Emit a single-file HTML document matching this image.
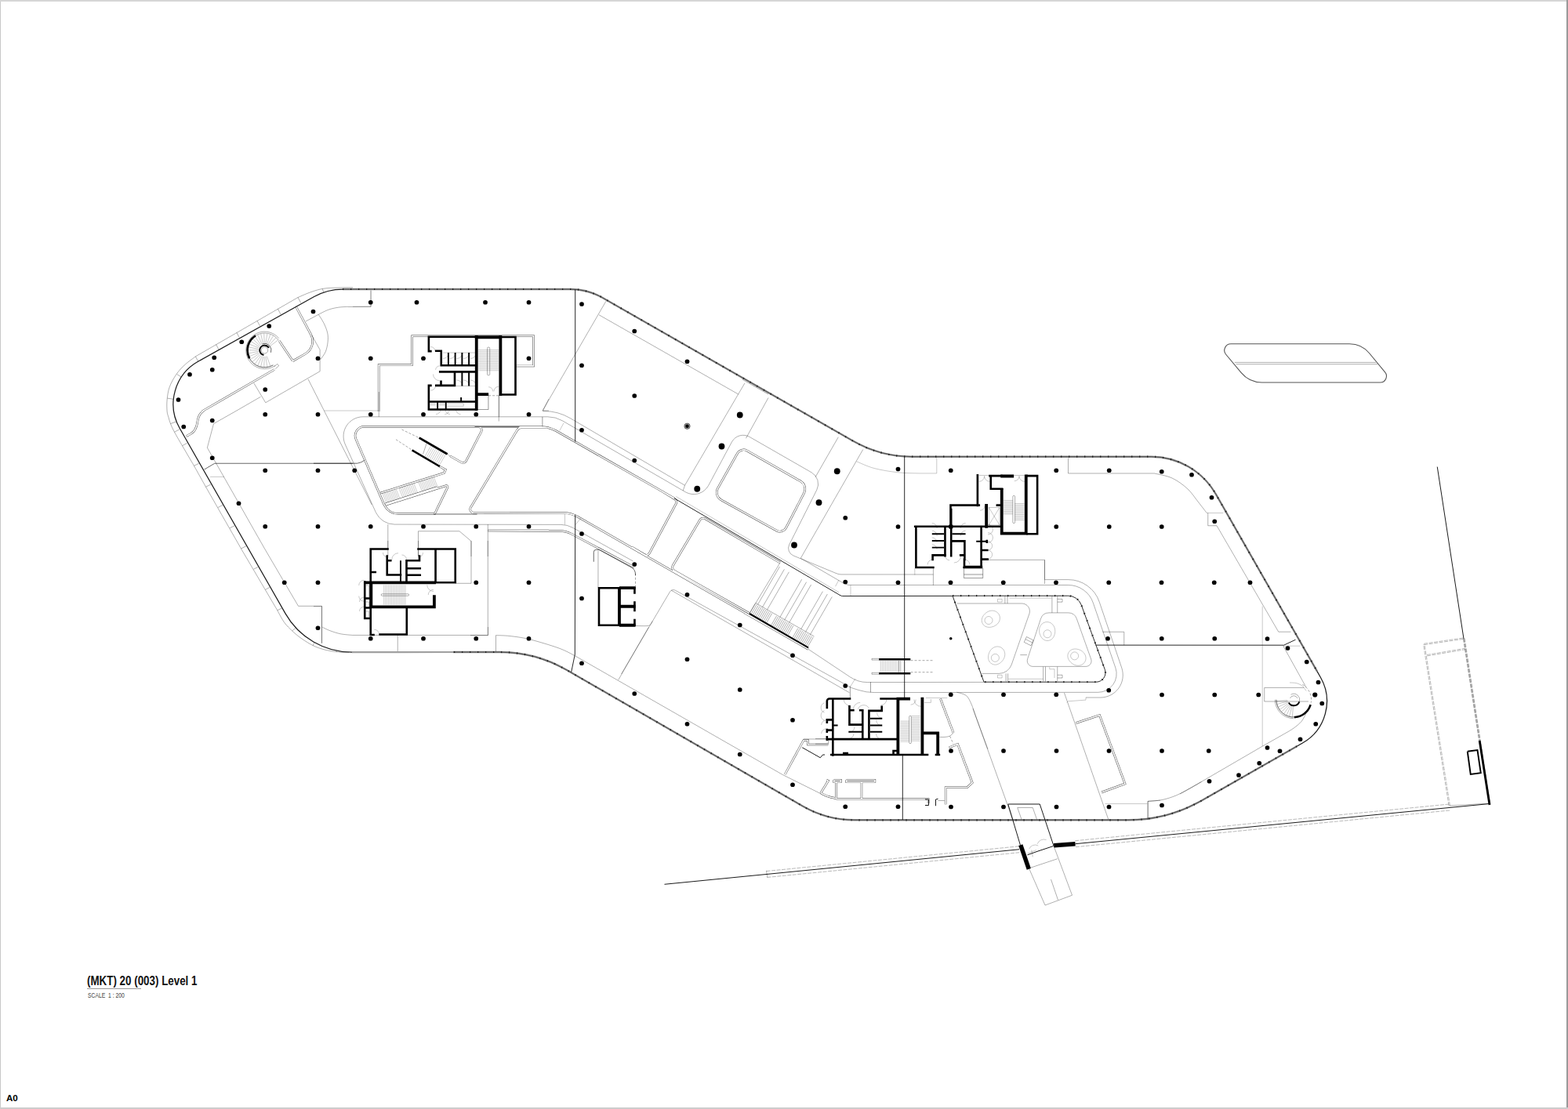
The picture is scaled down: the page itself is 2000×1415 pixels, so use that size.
<!DOCTYPE html>
<html lang="en"><head><meta charset="utf-8"><title>(MKT) 20 (003) Level 1</title>
<style>
html,body{margin:0;padding:0;background:#fff;}
body{width:2000px;height:1415px;overflow:hidden;position:relative;font-family:"Liberation Sans",sans-serif;}
svg{position:absolute;left:0;top:0;display:block}
path,circle{fill:none;stroke-linecap:butt;stroke-linejoin:miter}
.t{stroke:#000;stroke-width:.32}
.g{stroke:#000;stroke-width:.22}
.m{stroke:#000;stroke-width:.6}
.fa{stroke:#3c3c3c;stroke-width:.75}
.w{stroke:#000;stroke-width:2.6;stroke-linecap:square}
.w2{stroke:#000;stroke-width:3.8;stroke-linecap:butt}
.w1{stroke:#000;stroke-width:1.9}
.col{fill:#000;stroke:none}
.d{stroke:#000;stroke-width:.35;stroke-dasharray:3 2}
.dbo{stroke:#3a3a3a;stroke-width:2.5}
.dbi{stroke:#fff;stroke-width:1.6}
.st{stroke:#000;stroke-width:.2}
.ev{stroke:#2a2a2a;stroke-width:1.0}
.blk{fill:#000;stroke:none}
.dl{stroke:#000;stroke-width:.28;stroke-dasharray:5 1.5}
.s1{stroke:#000;stroke-width:.9}
.cn{stroke:#555;stroke-width:1.1}
.m2{stroke:#000;stroke-width:.85}
.fg{stroke:#8c8c8c;stroke-width:2.4}
.ft{stroke:#222;stroke-width:2.2;stroke-dasharray:1.3 8.7}
.fth{stroke:#1e1e1e;stroke-width:1.25}
.fg2{stroke:#a0a0a0;stroke-width:2.2}
.col circle{fill:#000;stroke:none}
.bl{position:absolute;left:0;top:0;width:1px;height:1415px;background:#c8c8c8}
.bt{position:absolute;left:0;top:0;width:2000px;height:1.5px;background:#d6d6d6}
.br{position:absolute;left:1997.5px;top:0;width:2.5px;height:1415px;background:#9a9a9a}
.bb{position:absolute;left:0;top:1413.3px;width:2000px;height:1.7px;background:#cdcdcd}
.title{position:absolute;left:111.3px;top:1243.4px;font-weight:bold;font-size:16px;line-height:18px;color:#111;white-space:nowrap;transform-origin:0 0;transform:scaleX(.836)}
.ul{position:absolute;left:110.5px;top:1261px;width:69.5px;height:1px;background:#999}
.scale{position:absolute;left:111.5px;top:1265px;font-size:9px;line-height:10px;color:#444;white-space:nowrap;transform-origin:0 0;transform:scaleX(.755)}
.a0{position:absolute;left:8px;top:1394.2px;font-weight:bold;font-size:11.6px;line-height:14px;color:#000;white-space:nowrap}
</style></head><body>
<svg width="2000" height="1415" viewBox="0 0 2000 1415">
<path class="fg" d="M437,369 L727.6,369 A82.73,82.73 0 0 1 768.69,379.93 L1088.28,562.83 A150.42,150.42 0 0 0 1163,582.7 L1468.5,582.7 A94.78,94.78 0 0 1 1550.79,630.45 L1680.17,856.83 M1654.09,952.27 L1532.63,1021.53 A188.62,188.62 0 0 1 1439.2,1046.3 L1089.5,1046.3 A130.63,130.63 0 0 1 1024.19,1028.8 L723.14,855 A171.68,171.68 0 0 0 637.3,832 L578,832"/>
<path class="fg2" d="M578,832 L449,832.2"/>
<path class="dbo" d="M356.25,435 L373.5,460.62 M373.5,460.62 L389.4,451.48 A18.54,18.54 0 0 0 396.49,426.64 L377.5,391.25 M350,471.5 L257.5,525 L260,523.75 M260,523.75 C259.17,524.58 256.25,526.88 255,528.75 C253.75,530.62 253.23,532.5 252.5,535 C251.77,537.5 251.46,541.25 250.62,543.75 C249.79,546.25 248.85,548.29 247.5,550 C246.15,551.71 244.17,552.92 242.5,554 C240.83,555.08 238.33,556.08 237.5,556.5 M658.75,466.88 L680.62,466.88 L680.62,428.75 L525.62,428.75 L525.62,465.62 L483.12,465.62 L483.12,525 M574,581.75 L588.54,590.02 A4.32,4.32 0 0 0 594.51,588.25 L613.84,550.77 A4.27,4.27 0 0 0 610.05,544.55 L464.25,544.55 A11.2,11.2 0 0 0 453.96,560.17 L490,644 M559.75,594.5 L568.3,599.3 L566.5,603.5 L485.5,629 M557.5,621.8 L491.8,642.8 M491.8,644.3 L568.69,619.72 A1.71,1.71 0 0 1 570.75,622.1 L554.5,655.55 L508,655.55 A19.52,19.52 0 0 1 490.58,644.84 L489.4,642.5 M622.3,677 L700,677 M940.59,578.45 A8.95,8.95 0 0 1 952.82,575.06 L1021.04,613.95 A11.45,11.45 0 0 1 1025.54,629.17 L1002.64,673.41 A8.75,8.75 0 0 1 990.63,677.04 L919.82,637.83 A10.93,10.93 0 0 1 915.59,622.91 Z M617.5,654.5 L718.7,654.59 A37.54,37.54 0 0 1 737.37,659.58 L1031,828.3 M622.3,677 L714,677.46 A32.41,32.41 0 0 1 729.06,681.26 L809,723.8 M605.5,544.62 L690.5,544.69 A37.75,37.75 0 0 1 709.18,549.66 L860,635.75 M950,782.25 L1031,828 M1199.5,891.45 L1216,934.9 M1210.5,953.82 L1221.5,949.42 L1240.2,998.7 L1233.6,1004.75 L1206.1,1004.75 L1206.1,1026.2 M1054.3,995.18 L1056.5,996.28 L1046.82,1011.9 M1046.82,1011.9 C1048.43,1012.63 1053.24,1015.16 1056.5,1016.3 C1059.76,1017.44 1064.75,1018.32 1066.4,1018.72 M1063.65,995.18 L1072.45,995.18 L1072.45,997.6 L1063.65,997.6 L1063.65,995.18 M1066.62,997.6 L1066.62,1019.05 M1079.6,995.18 L1115.9,995.18 L1115.9,997.6 L1079.6,997.6 L1079.6,995.18 M1098.96,997.6 L1098.96,1019.6 M1066.62,1019.6 L1184.1,1019.6 L1184.1,1025.1 M1372.5,922.5 L1402.5,912.5 L1435,1000 L1405,1011 M700,545.6 L665.5,545.6 A7.06,7.06 0 0 0 659.44,549.03 L600.42,647.44 A4.53,4.53 0 0 0 604.3,654.3 L650,654.3 M845,627.2 L860.45,636.57 A4.73,4.73 0 0 1 862.17,642.86 L828.13,706.04 A4.3,4.3 0 0 1 822.14,707.68 L806,698 M995,717.95 L899.51,661.83 A5.02,5.02 0 0 0 892.65,663.6 L858.35,721.5 A4.91,4.91 0 0 0 860.15,728.27 L956,782.6 M1001.25,988 L1025,944.5 L1030.5,944.5 L1030.5,950 L1056.25,950"/>
<path class="dbi" d="M356.25,435 L373.5,460.62 M373.5,460.62 L389.4,451.48 A18.54,18.54 0 0 0 396.49,426.64 L377.5,391.25 M350,471.5 L257.5,525 L260,523.75 M260,523.75 C259.17,524.58 256.25,526.88 255,528.75 C253.75,530.62 253.23,532.5 252.5,535 C251.77,537.5 251.46,541.25 250.62,543.75 C249.79,546.25 248.85,548.29 247.5,550 C246.15,551.71 244.17,552.92 242.5,554 C240.83,555.08 238.33,556.08 237.5,556.5 M658.75,466.88 L680.62,466.88 L680.62,428.75 L525.62,428.75 L525.62,465.62 L483.12,465.62 L483.12,525 M574,581.75 L588.54,590.02 A4.32,4.32 0 0 0 594.51,588.25 L613.84,550.77 A4.27,4.27 0 0 0 610.05,544.55 L464.25,544.55 A11.2,11.2 0 0 0 453.96,560.17 L490,644 M559.75,594.5 L568.3,599.3 L566.5,603.5 L485.5,629 M557.5,621.8 L491.8,642.8 M491.8,644.3 L568.69,619.72 A1.71,1.71 0 0 1 570.75,622.1 L554.5,655.55 L508,655.55 A19.52,19.52 0 0 1 490.58,644.84 L489.4,642.5 M622.3,677 L700,677 M940.59,578.45 A8.95,8.95 0 0 1 952.82,575.06 L1021.04,613.95 A11.45,11.45 0 0 1 1025.54,629.17 L1002.64,673.41 A8.75,8.75 0 0 1 990.63,677.04 L919.82,637.83 A10.93,10.93 0 0 1 915.59,622.91 Z M617.5,654.5 L718.7,654.59 A37.54,37.54 0 0 1 737.37,659.58 L1031,828.3 M622.3,677 L714,677.46 A32.41,32.41 0 0 1 729.06,681.26 L809,723.8 M605.5,544.62 L690.5,544.69 A37.75,37.75 0 0 1 709.18,549.66 L860,635.75 M950,782.25 L1031,828 M1199.5,891.45 L1216,934.9 M1210.5,953.82 L1221.5,949.42 L1240.2,998.7 L1233.6,1004.75 L1206.1,1004.75 L1206.1,1026.2 M1054.3,995.18 L1056.5,996.28 L1046.82,1011.9 M1046.82,1011.9 C1048.43,1012.63 1053.24,1015.16 1056.5,1016.3 C1059.76,1017.44 1064.75,1018.32 1066.4,1018.72 M1063.65,995.18 L1072.45,995.18 L1072.45,997.6 L1063.65,997.6 L1063.65,995.18 M1066.62,997.6 L1066.62,1019.05 M1079.6,995.18 L1115.9,995.18 L1115.9,997.6 L1079.6,997.6 L1079.6,995.18 M1098.96,997.6 L1098.96,1019.6 M1066.62,1019.6 L1184.1,1019.6 L1184.1,1025.1 M1372.5,922.5 L1402.5,912.5 L1435,1000 L1405,1011 M700,545.6 L665.5,545.6 A7.06,7.06 0 0 0 659.44,549.03 L600.42,647.44 A4.53,4.53 0 0 0 604.3,654.3 L650,654.3 M845,627.2 L860.45,636.57 A4.73,4.73 0 0 1 862.17,642.86 L828.13,706.04 A4.3,4.3 0 0 1 822.14,707.68 L806,698 M995,717.95 L899.51,661.83 A5.02,5.02 0 0 0 892.65,663.6 L858.35,721.5 A4.91,4.91 0 0 0 860.15,728.27 L956,782.6 M1001.25,988 L1025,944.5 L1030.5,944.5 L1030.5,950 L1056.25,950"/>
<path class="g" d="M340.24,454.39 L344.85,467.08 M338.75,454.78 L340.86,468.11 M337.22,454.87 L336.75,468.36 M335.7,454.67 L332.66,467.82 M334.25,454.18 L328.76,466.52 M332.91,453.43 L325.17,464.49 M331.75,452.43 L322.03,461.81 M330.79,451.23 L319.47,458.58 M330.08,449.87 L317.57,454.93 M329.65,448.4 L316.4,450.98 M329.5,446.88 L316,446.88 M329.65,445.35 L316.4,442.77 M330.08,443.88 L317.57,438.82 M330.79,442.52 L319.47,435.17 M331.75,441.32 L322.03,431.94 M332.91,440.32 L325.17,429.26 M334.25,439.57 L328.76,427.23 M335.7,439.08 L332.66,425.93 M337.22,438.88 L336.75,425.39 M338.75,438.97 L340.86,425.64 M340.24,439.36 L344.85,426.67 M341.62,440.02 L348.57,428.45 M342.85,440.93 L351.89,430.9 M343.89,442.06 L354.67,433.94 M268.12,608.38 L286,608.38 M450,391.25 L473.12,391.25 L473.12,370.62 M623.12,505 L623.12,522.5 L607.75,522.5 M549.38,442.5 A5.62,5.62 0 0 1 555,448.12 M555.62,491.88 A6.25,6.25 0 0 1 549.38,498.12 M555.62,471.88 A5,5 0 0 1 560.62,466.88 M560.62,485.62 A8.12,8.12 0 0 1 552.5,477.5 M572.5,450 A7.5,7.5 0 0 1 565,457.5 M581.25,450 A7.5,7.5 0 0 1 573.75,457.5 M590,450 A7.5,7.5 0 0 1 582.5,457.5 M598.75,450 A7.5,7.5 0 0 1 591.25,457.5 M607.5,450 A7.5,7.5 0 0 1 600,457.5 M582.5,485 A7.5,7.5 0 0 1 590,492.5 M591.25,485 A7.5,7.5 0 0 1 598.75,492.5 M600,485 A7.5,7.5 0 0 1 607.5,492.5 M565,450 L606.25,450 M581.25,492.5 L606.25,492.5 M548.75,515 L556.25,515 M548.75,516.88 L556.25,516.88 M560,515 L567.5,515 M560,516.88 L567.5,516.88 M570.62,515 L591.25,515 L591.25,518.12 L570.62,518.12 M623.12,493.75 A5.62,5.62 0 0 1 628.75,499.38 M630,499.38 A6.25,6.25 0 0 1 636.25,493.12 M413.5,524 L483.25,524 M608.5,522.5 L622.75,522.5 L622.75,504.5 M691.75,531.8 L691.75,543.5 M562,522.5 A6,6 0 0 1 556,528.5 M573.25,522.5 A6,6 0 0 1 567.25,528.5 M574,528.5 A6,6 0 0 1 568,522.5 M587.5,528.5 A6,6 0 0 1 581.5,522.5 M1092.5,588.8 C1096.25,590.25 1106.25,595.17 1115,597.5 C1123.75,599.83 1135.5,601.67 1145,602.75 C1154.5,603.83 1167.5,603.75 1172,603.95 M1172,603.95 L1194.8,603.95 L1194.8,584 M692,531.95 L692,544.7 M719,539.75 L713.75,549.5 M720.5,656 L720.5,669.5 M740.75,661.25 L734,669.5 M1084.25,876 L1084.25,891 M1091,865.8 L1086.5,873 L1084.25,876.3 M1110.5,870.45 L1110.5,883.5 M862.25,633.5 L1070,755.75 M1085,746.45 L1085,760.25 M1070,740 L1065.5,748.25 M457.75,747 A6.75,6.75 0 0 1 464.5,740.25 M464.5,767.25 A6.75,6.75 0 0 1 457.75,760.5 M458.5,768 A6,6 0 0 1 464.5,762 M458.5,780 A6,6 0 0 1 464.5,774 M494.5,711 A6,6 0 0 1 488.5,705 M539.5,705 A6,6 0 0 1 533.5,711 M499.75,714 A8.25,8.25 0 0 1 508,705.75 M512.5,708 A6,6 0 0 1 518.5,714 M553,754.5 A8.25,8.25 0 0 1 544.75,746.25 M546.25,759 A6.75,6.75 0 0 1 553,752.25 M477.25,803.25 A6.75,6.75 0 0 1 484,810 M466.75,747 L470.5,747 L470.5,762 L466.75,762 M466.75,768 L470.5,768 L470.5,774.75 M466.75,780 L470.5,780 L470.5,787.5 M1261.25,647.5 L1275,647.5 L1275,670 L1261.25,670 L1261.25,647.5 L1275,670 M1275,647.5 L1261.25,670 M1229.38,725 L1253.75,725 L1253.75,737.5 L1229.38,737.5 L1229.38,725 M1229.38,732.5 L1253.75,732.5 M1166.8,725.2 L1166.8,733.6 M1229.6,724.8 L1229.6,737.6 L1253.6,737.6 L1253.6,724.4 M1229.6,733.6 L1253.6,733.6 M1188.8,667.6 A6.4,6.4 0 0 1 1195.2,674 M1188.8,677.2 A6.4,6.4 0 0 1 1195.2,683.6 M1188.8,686 A6.4,6.4 0 0 1 1195.2,692.4 M1188.8,694.8 A6.4,6.4 0 0 1 1195.2,701.2 M1225.2,674 A6.4,6.4 0 0 1 1231.6,667.6 M1225.2,683.6 A6.4,6.4 0 0 1 1231.6,677.2 M1183.2,720.4 A6.4,6.4 0 0 1 1189.6,714 M1230.4,714 A6.4,6.4 0 0 1 1236.8,720.4 M1211.2,714.8 A5.6,5.6 0 0 1 1205.6,709.2 M1225.6,709.2 A8.8,8.8 0 0 1 1216.8,718 M1260,669.2 A6.4,6.4 0 0 1 1260,682 M1260,679.6 A6.4,6.4 0 0 1 1260,692.4 M1260,690.8 A5.6,5.6 0 0 1 1260,702 M1260,702 A5.6,5.6 0 0 1 1260,713.2 M1255.62,607.5 A6.88,6.88 0 0 1 1248.75,614.38 M1262.5,614.38 A6.88,6.88 0 0 1 1255.62,607.5 M1300,607.5 A6.25,6.25 0 0 1 1293.75,613.75 M1306.88,614.38 A6.88,6.88 0 0 1 1300,607.5 M1256.25,645 A6.25,6.25 0 0 1 1250,651.25 M1248.75,606.5 L1262.5,606.5 M1293.12,606.5 L1306.88,606.5 M1385,890 L1385,893.12 L1362.5,894.75 L1360.62,896.5 M1275.03,791.5 C1274.6,793.07 1273.58,794.58 1272.61,795.72 C1271.64,796.87 1270.34,797.71 1269.21,798.39 C1268.07,799.06 1266.89,799.45 1265.78,799.78 C1264.67,800.11 1263.61,800.28 1262.56,800.35 C1261.51,800.41 1260.46,800.36 1259.47,800.15 C1258.48,799.94 1257.49,799.58 1256.62,799.08 C1255.76,798.57 1254.94,797.89 1254.3,797.12 C1253.66,796.36 1253.12,795.43 1252.78,794.49 C1252.44,793.56 1252.25,792.5 1252.25,791.5 C1252.24,790.5 1252.43,789.46 1252.74,788.49 C1253.05,787.53 1253.54,786.61 1254.12,785.73 C1254.7,784.85 1255.38,784.01 1256.22,783.22 C1257.06,782.42 1257.99,781.6 1259.14,780.95 C1260.29,780.3 1261.67,779.6 1263.14,779.34 C1264.62,779.07 1266.44,778.94 1268.01,779.35 C1269.59,779.76 1271.37,780.63 1272.57,781.79 C1273.77,782.96 1274.78,784.72 1275.19,786.33 C1275.6,787.95 1275.46,789.93 1275.03,791.5Z"/>
<path class="g" d="M1280.87,839.38 C1280.37,840.7 1279.57,841.83 1278.83,842.82 C1278.09,843.8 1277.27,844.59 1276.43,845.29 C1275.59,846 1274.72,846.59 1273.8,847.04 C1272.88,847.49 1271.89,847.84 1270.9,848 C1269.91,848.16 1268.84,848.17 1267.86,847.99 C1266.87,847.82 1265.86,847.45 1265,846.95 C1264.14,846.45 1263.31,845.76 1262.67,845 C1262.03,844.24 1261.5,843.31 1261.14,842.37 C1260.78,841.43 1260.59,840.4 1260.52,839.38 C1260.45,838.35 1260.53,837.3 1260.72,836.23 C1260.91,835.15 1261.18,834.04 1261.67,832.91 C1262.15,831.77 1262.73,830.52 1263.63,829.42 C1264.53,828.33 1265.7,827.1 1267.08,826.35 C1268.46,825.6 1270.27,824.95 1271.92,824.92 C1273.58,824.89 1275.55,825.33 1277,826.17 C1278.45,827 1279.82,828.49 1280.62,829.94 C1281.42,831.39 1281.76,833.28 1281.8,834.85 C1281.84,836.42 1281.36,838.05 1280.87,839.38Z M1345.37,808.75 C1345.14,809.85 1344.81,810.86 1344.37,811.8 C1343.93,812.74 1343.38,813.63 1342.72,814.39 C1342.05,815.14 1341.24,815.83 1340.38,816.33 C1339.51,816.82 1338.5,817.19 1337.52,817.37 C1336.54,817.54 1335.46,817.54 1334.48,817.37 C1333.5,817.19 1332.49,816.82 1331.62,816.33 C1330.75,815.84 1329.94,815.16 1329.25,814.41 C1328.56,813.67 1327.97,812.8 1327.47,811.86 C1326.96,810.91 1326.52,809.9 1326.21,808.75 C1325.89,807.6 1325.58,806.33 1325.58,804.96 C1325.58,803.59 1325.66,801.97 1326.2,800.53 C1326.74,799.08 1327.62,797.42 1328.81,796.3 C1330,795.17 1331.73,794.14 1333.36,793.77 C1334.99,793.39 1337.01,793.53 1338.59,794.05 C1340.17,794.58 1341.73,795.76 1342.82,796.94 C1343.91,798.11 1344.64,799.71 1345.13,801.09 C1345.62,802.47 1345.71,803.93 1345.75,805.2 C1345.79,806.48 1345.6,807.65 1345.37,808.75Z M1384.65,836.88 C1385.09,838.44 1385.23,840.42 1384.82,842.04 C1384.41,843.66 1383.39,845.42 1382.19,846.58 C1381,847.75 1379.21,848.62 1377.64,849.02 C1376.07,849.43 1374.25,849.31 1372.77,849.04 C1371.29,848.77 1369.92,848.07 1368.76,847.43 C1367.61,846.78 1366.68,845.95 1365.84,845.16 C1365.01,844.36 1364.32,843.53 1363.74,842.65 C1363.17,841.77 1362.68,840.84 1362.37,839.88 C1362.06,838.92 1361.87,837.87 1361.87,836.88 C1361.88,835.88 1362.06,834.82 1362.4,833.88 C1362.74,832.94 1363.28,832.02 1363.92,831.25 C1364.56,830.49 1365.39,829.8 1366.25,829.3 C1367.11,828.79 1368.11,828.43 1369.1,828.22 C1370.09,828.01 1371.13,827.97 1372.18,828.03 C1373.24,828.09 1374.3,828.27 1375.41,828.59 C1376.51,828.92 1377.69,829.31 1378.83,829.99 C1379.97,830.66 1381.26,831.5 1382.23,832.65 C1383.2,833.8 1384.22,835.31 1384.65,836.88Z M1272.5,764.38 L1278.12,764.38 L1278.12,768.12 L1272.5,768.12 L1272.5,764.38 M1272.5,861.25 L1278.12,861.25 L1278.12,865 L1272.5,865 L1272.5,861.25 M1338.75,851.25 L1338.75,853.75 L1345,853.75 L1345,865 M1287.5,763.12 L1341.25,763.12 M1286.25,866.25 L1330.62,866.25 M1539.25,654.55 L1560.25,654.55 M1610.2,773.5 L1610.2,952 M1636.75,824.2 L1658.5,824.2 M1649.55,900.72 L1648.33,914.67 M1648.18,900.48 L1644.56,914 M1646.87,900 L1640.95,912.69 M1645.66,899.3 L1637.63,910.77 M1644.59,898.41 L1634.69,908.31 M1643.7,897.34 L1632.23,905.37 M1643,896.13 L1630.31,902.05 M1642.52,894.82 L1629,898.44 M1642.28,893.45 L1628.33,894.67 M1645,871 C1646.5,871.12 1651.25,871 1654,871.75 C1656.75,872.5 1659.5,873.88 1661.5,875.5 C1663.5,877.12 1665.25,880.5 1666,881.5 M1084.55,875.5 L1084.55,890.9 M1110.4,870 L1110.4,883.2 M1180.8,890.46 L1208.3,890.46 M1179.15,896.4 L1187.4,896.4 L1187.4,892 M1084,900.25 A7.7,7.7 0 0 1 1076.3,892.55 M1130.75,892.55 A7.15,7.15 0 0 1 1123.6,899.7 M1088.4,905.2 A8.8,8.8 0 0 1 1097.2,896.4 M1094.36,904.77 A7.7,7.7 0 0 1 1108.27,903.55 M1168.15,892.55 A6.6,6.6 0 0 1 1161.55,899.15 M1174.75,901.35 A8.8,8.8 0 0 1 1165.95,892.55 M1051.49,909.2 A6.6,6.6 0 0 1 1051.49,896.8 M1051.49,919.1 A6.6,6.6 0 0 1 1051.49,906.7 M1047.7,925 A6.05,6.05 0 0 1 1053.75,918.95 M1047.7,936 A6.05,6.05 0 0 1 1053.75,929.95 M1090.05,927.2 A7.7,7.7 0 0 1 1082.35,934.9 M1088.95,936 A6.6,6.6 0 0 1 1082.35,942.6 M1125.25,926.1 A7.7,7.7 0 0 1 1117.55,918.4 M1125.25,943.7 A7.7,7.7 0 0 1 1117.55,936 M1125.25,916.2 A6.6,6.6 0 0 1 1118.65,909.6 M1323.04,1076.92 A9,9 0 0 1 1334.58,1071.54"/>
<path class="g" d="M1312.73,1083.26 A8,8 0 0 1 1324.25,1079.07 M1310.5,1089 L1321.75,1084.5 M1315.75,1084.5 L1317.25,1093.5 M1409.5,1025.55 L1463.5,1025.55"/>
<path class="st" d="M610.25,446.5 L636.25,446.5 M610.25,448.38 L636.25,448.38 M610.25,450.25 L636.25,450.25 M610.25,452.12 L636.25,452.12 M610.25,454 L636.25,454 M610.25,455.88 L636.25,455.88 M610.25,457.75 L636.25,457.75 M610.25,459.62 L636.25,459.62 M610.25,461.5 L636.25,461.5 M610.25,463.38 L636.25,463.38 M610.25,465.25 L636.25,465.25 M610.25,467.12 L636.25,467.12 M610.25,469 L636.25,469 M610.25,470.88 L636.25,470.88 M610.25,472.75 L636.25,472.75 M550,568.25 L541,584 M552.08,569.47 L543.08,585.2 M554.17,570.68 L545.17,586.4 M556.25,571.9 L547.25,587.6 M558.33,573.12 L549.33,588.8 M560.42,574.33 L551.42,590 M562.5,575.55 L553.5,591.2 M564.58,576.77 L555.58,592.4 M566.67,577.98 L557.67,593.6 M568.75,579.2 L559.75,594.8 M487.75,629 L492.7,641.75 M489.67,628.4 L494.62,641.13 M491.58,627.8 L496.53,640.52 M493.5,627.2 L498.45,639.9 M495.42,626.6 L500.37,639.28 M497.33,626 L502.28,638.67 M499.25,625.4 L504.2,638.05 M501.17,624.8 L506.12,637.43 M503.08,624.2 L508.03,636.82 M505,623.6 L509.95,636.2 M508.75,622.25 L513.7,634.7 M510.83,621.58 L515.78,634.03 M512.92,620.92 L517.87,633.37 M515,620.25 L519.95,632.7 M517.08,619.58 L522.03,632.03 M519.17,618.92 L524.12,631.37 M521.25,618.25 L526.2,630.7 M523.33,617.58 L528.28,630.03 M525.42,616.92 L530.37,629.37 M527.5,616.25 L532.45,628.7 M533.5,614.3 L538.45,626.75 M535.45,613.67 L540.4,626.15 M537.4,613.04 L542.35,625.55 M539.35,612.41 L544.3,624.95 M541.3,611.78 L546.25,624.35 M543.25,611.15 L548.2,623.75 M545.2,610.52 L550.15,623.15 M547.15,609.89 L552.1,622.55 M549.1,609.26 L554.05,621.95 M551.05,608.63 L556,621.35 M553,608 L557.95,620.75 M1123.25,843 L1123.25,857.7 M1125.35,843 L1125.35,857.7 M1127.45,843 L1127.45,857.7 M1129.55,843 L1129.55,857.7 M1131.65,843 L1131.65,857.7 M1133.75,843 L1133.75,857.7 M1135.85,843 L1135.85,857.7 M1137.95,843 L1137.95,857.7 M1140.05,843 L1140.05,857.7 M1142.15,843 L1142.15,857.7 M1144.25,843 L1144.25,857.7 M1146.35,843 L1146.35,857.7 M489.7,746.25 L489.7,771.75 M491.65,746.25 L491.65,771.75 M493.6,746.25 L493.6,771.75 M495.55,746.25 L495.55,771.75 M497.5,746.25 L497.5,771.75 M499.45,746.25 L499.45,771.75 M501.4,746.25 L501.4,771.75 M503.35,746.25 L503.35,771.75 M505.3,746.25 L505.3,771.75 M507.25,746.25 L507.25,771.75 M509.2,746.25 L509.2,771.75 M511.15,746.25 L511.15,771.75 M513.1,746.25 L513.1,771.75 M515.05,746.25 L515.05,771.75 M517,746.25 L517,771.75 M1280,638.5 L1291.88,638.5 M1280,640.25 L1291.88,640.25 M1280,642 L1291.88,642 M1280,643.75 L1291.88,643.75 M1280,645.5 L1291.88,645.5 M1280,647.25 L1291.88,647.25 M1280,649 L1291.88,649 M1280,650.75 L1291.88,650.75 M1280,652.5 L1291.88,652.5 M1280,654.25 L1291.88,654.25 M1280,656 L1291.88,656 M1294.38,642.5 L1306.5,642.5 M1294.38,644.25 L1306.5,644.25 M1294.38,646 L1306.5,646 M1294.38,647.75 L1306.5,647.75 M1294.38,649.5 L1306.5,649.5 M1294.38,651.25 L1306.5,651.25 M1294.38,653 L1306.5,653 M1294.38,654.75 L1306.5,654.75 M1294.38,656.5 L1306.5,656.5 M1294.38,658.25 L1306.5,658.25 M1294.38,660 L1306.5,660 M1294.38,661.75 L1306.5,661.75 M1294.38,663.5 L1306.5,663.5 M1148.35,920.05 L1159.68,920.05 M1148.35,921.92 L1159.68,921.92 M1148.35,923.79 L1159.68,923.79 M1148.35,925.66 L1159.68,925.66 M1148.35,927.53 L1159.68,927.53 M1148.35,929.4 L1159.68,929.4 M1148.35,931.27 L1159.68,931.27 M1148.35,933.14 L1159.68,933.14 M1148.35,935.01 L1159.68,935.01 M1148.35,936.88 L1159.68,936.88 M1148.35,938.75 L1159.68,938.75 M1148.35,940.62 L1159.68,940.62 M1148.35,942.49 L1159.68,942.49 M1148.35,944.36 L1159.68,944.36 M1148.35,946.23 L1159.68,946.23 M1162.32,913.45 L1173.65,913.45 M1162.32,915.32 L1173.65,915.32 M1162.32,917.19 L1173.65,917.19 M1162.32,919.06 L1173.65,919.06 M1162.32,920.93 L1173.65,920.93 M1162.32,922.8 L1173.65,922.8 M1162.32,924.67 L1173.65,924.67 M1162.32,926.54 L1173.65,926.54 M1162.32,928.41 L1173.65,928.41 M1162.32,930.28 L1173.65,930.28 M1162.32,932.15 L1173.65,932.15 M1162.32,934.02 L1173.65,934.02 M1162.32,935.89 L1173.65,935.89 M1162.32,937.76 L1173.65,937.76 M1162.32,939.63 L1173.65,939.63 M1162.32,941.5 L1173.65,941.5 M1162.32,943.37 L1173.65,943.37 M1162.32,945.24 L1173.65,945.24"/>
<path class="t" d="M450,366.88 C446.88,366.92 437.5,366.9 431.25,367.12 C425,367.35 418.33,367.31 412.5,368.25 C406.67,369.19 401.67,370.88 396.25,372.75 C390.83,374.62 382.71,378.38 380,379.5 M380,379.5 L250,454.5 M250,454.5 C247.71,456.25 240.42,461.17 236.25,465 C232.08,468.83 228.33,472.71 225,477.5 C221.67,482.29 218.23,488.33 216.25,493.75 C214.27,499.17 213.65,504.79 213.12,510 C212.6,515.21 212.81,521.25 213.12,525 C213.44,528.75 214.27,529.9 215,532.5 C215.73,535.1 216.25,537.5 217.5,540.62 C218.75,543.75 220,546.56 222.5,551.25 C225,555.94 230.83,565.83 232.5,568.75 M232.5,568.75 L247.5,594.38 L262.5,621.25 L307.5,700 M411.25,368.5 L413.12,373.5 M380,379.38 L383.75,386.5 M354.38,394 L358.12,401.25 M328.12,409.38 L331.5,416 M301.88,424.38 L305.25,430.62 M275.62,439.38 L279,446 M249.38,454.75 L252.75,461.25 M225.62,477.5 L231.25,481 M213.5,508.12 L221.5,509.38 M217.5,540.62 L224.38,538.12 M222.5,551.25 L228.5,548.12 M232.5,568.75 L238.75,565.25 M247.5,594.38 L253.75,591.25 M262.5,621.25 L268.75,618.12 M278.12,647.5 L284,644.38 M293.12,673.75 L299.38,670.62 M307.5,700 L314.38,696.5 M324.94,428.94 A21.9,21.9 0 0 1 355.44,434.31 M316.89,458.77 A23.8,23.8 0 0 1 355.73,431.58 M351.15,466.37 A23.8,23.8 0 0 1 316.89,458.77 M349.38,468.12 L353.75,464.38 L355.62,466.88 L351.25,470.62 M390,410 L406.25,401.25 M406.25,401.25 C408.33,400.25 414.58,396.75 418.75,395.25 C422.92,393.75 427.08,392.92 431.25,392.25 C435.42,391.58 441.67,391.42 443.75,391.25 M443.75,391.5 L473,391.25 L473,370.5 M406.25,401.25 C407.4,403.12 411.21,408.54 413.12,412.5 C415.04,416.46 416.92,421.04 417.75,425 C418.58,428.96 418.54,432.29 418.12,436.25 C417.71,440.21 416.81,445 415.25,448.75 C413.69,452.5 409.83,457.08 408.75,458.75 M397.5,427.5 L408.12,446.25 L408.12,473.75 L338.75,513.75 L323.75,488.75 M332.5,506.25 L300,525 L272.5,540.62 L264.38,571.25 L337.5,700 M621.5,444.32 A1.2,1.2 0 0 1 622.7,443.12 L623.55,443.12 A1.2,1.2 0 0 1 624.75,444.32 L624.75,477.55 A1.2,1.2 0 0 1 623.55,478.75 L622.7,478.75 A1.2,1.2 0 0 1 621.5,477.55 Z M636.25,505 L636.25,537.5 M393,483.75 L474.25,644 M569.5,578.75 L574.75,582.2 M544,566 L539.5,579.5 M483.25,500 L483.25,531.8 M636.55,504.5 L636.55,531.8 M692.5,524 L700,509 M692.5,524 L700,524 M494.8,669.05 L494.8,710 M622.3,669.05 L622.3,710 M533.5,710 L533.5,677.75 L586,677.75 L601,690.5 L601,710 M773,384.2 L692,524 M764,401.75 L941.75,503 M950,488.75 L873.5,619.25 L871.25,626 M980,507.5 L951.5,559.25 M947,484.25 L980,503 M1069.25,557.75 L1040,608.75 M1100.75,573.5 L1021.25,712.25 M692,524.5 L693.8,524.5 A66.32,66.32 0 0 1 727.33,533.6 L873.5,619.25 M1031,828.3 L1084.51,863.95 A39.57,39.57 0 0 0 1106.5,870.59 L1255,870.4 M856.25,753.2 L1083.5,883.8 M810.5,798.5 C813.12,798.5 823,798.88 826.25,798.5 C829.5,798.12 829,797.25 830,796.25 C831,795.25 831.88,793.12 832.25,792.5 M762.95,702.5 L762.95,749.75 M1121.75,840.3 L1112,840.3 L1112,842.1 L1121.75,842.1 M1121.75,858.3 L1112,858.3 L1112,860.25 L1121.75,860.25 M1146.5,843 L1146.5,857.7 M1148.75,843 L1148.75,857.7 M807.5,716 L730.5,673.28 A31.01,31.01 0 0 0 715.5,669.39 L503.25,669.08 A26.34,26.34 0 0 1 479.27,653.55 L440.26,566.91 A24.89,24.89 0 0 1 462.95,531.8 L698.7,531.8 A37.19,37.19 0 0 1 717.35,536.81 L874.27,627.77 A21.27,21.27 0 0 0 903.69,619.41 L933.37,563.99 A16.5,16.5 0 0 1 956.14,557.47 L1035.13,602.83 A16.91,16.91 0 0 1 1041.81,625.09 L1006.69,694.92 A10.21,10.21 0 0 0 1011.92,708.95 L1067.23,731.8 A15.13,15.13 0 0 0 1073,732.95 L1190.5,733 M1021.25,712.25 L1076,744.2 L1082,746.45 L1362.5,746.5 A33.65,33.65 0 0 1 1394.31,769.19 L1422.86,852.1 A23.56,23.56 0 0 1 1400.6,883.33 L1115.1,883.59 A65.09,65.09 0 0 1 1095.38,880.55 L1085.75,877.5 L861.37,753.22 A5.14,5.14 0 0 0 854.46,755.11 L792.5,860 M963.5,769.25 L1038.5,812 M956,782.75 L963.25,770.19 M957.95,783.87 L965.2,771.32 M959.9,785 L967.15,772.44 M961.85,786.12 L969.1,773.56 M963.8,787.24 L971.05,774.68 M965.75,788.36 L973,775.81 M967.7,789.49 L974.95,776.93 M969.65,790.61 L976.9,778.05 M971.6,791.73 L978.85,779.17 M973.55,792.85 L980.8,780.3 M975.5,793.98 L982.75,781.42 M977.45,795.1 L984.7,782.54 M983.3,798.47 L990.55,785.91"/>
<path class="t" d="M985.25,799.59 L992.5,787.03 M987.2,800.71 L994.45,788.16 M989.15,801.84 L996.4,789.28 M991.1,802.96 L998.35,790.4 M993.05,804.08 L1000.3,791.52 M995,805.2 L1002.25,792.65 M996.95,806.33 L1004.2,793.77 M998.9,807.45 L1006.15,794.89 M1000.85,808.57 L1008.1,796.01 M1002.8,809.69 L1010.05,797.14 M1004.75,810.82 L1012,798.26 M1010.6,814.18 L1017.85,801.63 M1012.55,815.31 L1019.8,802.75 M1014.5,816.43 L1021.75,803.87 M1016.45,817.55 L1023.7,805 M1018.4,818.68 L1025.65,806.12 M1020.35,819.8 L1027.6,807.24 M1022.3,820.92 L1029.55,808.36 M1024.25,822.04 L1031.5,809.49 M1026.2,823.17 L1033.45,810.61 M1028.15,824.29 L1035.4,811.73 M1030.1,825.41 L1037.35,812.85 M966.47,771.47 L994.47,722.97 M972.41,774.89 L1000.41,726.39 M978.35,778.31 L1006.35,729.81 M994.68,787.72 L1022.68,739.22 M1000.62,791.13 L1028.62,742.64 M1006.57,794.55 L1034.57,746.06 M1021.41,803.11 L1049.41,754.61 M1027.36,806.52 L1055.36,758.03 M1033.3,809.94 L1061.3,761.45 M486.25,758.8 A1,1 0 0 1 487.25,757.8 L520.5,757.8 A1,1 0 0 1 521.5,758.8 L521.5,759.2 A1,1 0 0 1 520.5,760.2 L487.25,760.2 A1,1 0 0 1 486.25,759.2 Z M494.8,690 L494.8,700.5 M533.5,690 L533.5,709.5 M601,690 L601,744.3 L581.5,744.3 M622.3,690 L622.3,810.45 L449.5,810.45 M411.25,800.25 C412.88,801 417.12,803.33 421,804.75 C424.88,806.17 429.75,807.85 434.5,808.8 C439.25,809.75 447,810.18 449.5,810.45 M400,773.7 L410.5,773.7 L410.5,820.5 M507.25,810.45 L507.25,831 M600,810.62 L622.5,810.62 L622.5,800 M632.5,831.25 L632.5,810.62 M632.5,810.62 C635.42,810.77 642.92,810.67 650,811.5 C657.08,812.33 664.58,813.06 675,815.62 C685.42,818.19 702.92,823.44 712.5,826.88 C722.08,830.31 729.17,834.69 732.5,836.25 M732.5,836.25 L998.75,988.75 L1047.5,1013 M827.5,800 L788.75,867.5 M307.45,699.95 L353.5,778.25 M353.5,778.25 C355,780.88 359.25,789.5 362.5,794 C365.75,798.5 369.25,801.75 373,805.25 C376.75,808.75 380.5,811.88 385,815 C389.5,818.12 395,821.62 400,824 C405,826.38 410,827.95 415,829.25 C420,830.55 425,831.22 430,831.8 C435,832.38 442.5,832.55 445,832.7 M323.5,726.2 L329.05,723.5 M338.5,752.3 L344.2,749.3 M353.8,778.7 L359.5,776 M372.7,804.8 L377.2,801.2 M399.25,823.7 L400.75,820.25 M429.25,831.8 L429.25,830 M337.5,700 L380.5,773.3 L410.5,773.3 L410.5,821 M1362.5,584.38 L1362.5,604 L1450,604 M1291.88,633.5 A1,1 0 0 1 1292.88,632.5 L1293.62,632.5 A1,1 0 0 1 1294.62,633.5 L1294.62,666.5 A1,1 0 0 1 1293.62,667.5 L1292.88,667.5 A1,1 0 0 1 1291.88,666.5 Z M1260,714.38 L1332.5,714.38 L1332.5,745 M1190.4,724.4 L1190.4,746.8 M1332.5,739.6 L1362.6,739.6 A41.85,41.85 0 0 1 1402.23,768.01 L1430.75,852.12 A28.67,28.67 0 0 1 1403.6,890 L1385,890 M1332.5,739.6 L1332.5,714.5 M1406.25,806.25 L1433.75,806.25 L1433.75,823.12 M1220.62,770 L1303.5,770 A9.94,9.94 0 0 1 1312.88,783.22 L1290.21,848.05 A16.91,16.91 0 0 1 1274.25,859.38 L1252.5,859.38 M1327.5,789.48 A11.05,11.05 0 0 1 1338,781.88 L1362.62,781.88 A11.34,11.34 0 0 1 1373.31,789.41 L1391.65,840.95 A7.06,7.06 0 0 1 1385,850.38 L1317.5,850.38 A7.24,7.24 0 0 1 1310.62,840.87 Z M1281.88,760.62 L1281.88,770 M1285,760.62 L1285,770 M1341.88,760.62 L1341.88,781.88 M1348.75,760.62 L1348.75,781.88 M1283.12,859.38 L1283.12,869.38 M1285.62,859.38 L1285.62,869.38 M1330.62,850.62 L1330.62,869.38 M1333.5,850.62 L1333.5,869.38 M1348.75,850.62 L1348.75,869.38 M1348.75,764.38 L1355,764.38 L1355,768.12 L1348.75,768.12 M1348.75,861.25 L1355,861.25 L1355,865 L1348.75,865 M1301.25,835.62 L1310,835.62 M1309.38,812.5 L1318.12,816.88 L1315,823.75 L1306.25,819.38 L1309.38,812.5 M1308.12,815.62 L1316.88,820 M1357.5,884 L1413.75,1045.5 M1241,904 L1292.5,1047.5 M1450,604 L1472.5,604 M1472.5,604 C1476.25,605 1488,606.75 1495,610 C1502,613.25 1509,618.5 1514.5,623.5 C1520,628.5 1523.88,634.83 1528,640 C1532.12,645.17 1537.38,652.12 1539.25,654.55 M1540.75,654.55 L1540.75,670.75 L1552,670.75 L1630.75,806.2 L1646.5,806.2 M1636.75,824.2 L1666,877 M1666,910 C1665,911.75 1662.75,917.25 1660,920.5 C1657.25,923.75 1653.25,926.8 1649.5,929.5 C1645.75,932.2 1639.5,935.5 1637.5,936.7 M1637.5,936.7 L1610.5,952 L1528,1000 L1505,1013 M1650.25,916.75 A24,24 0 0 1 1626.25,892.75 M1646.5,886.25 A7.5,7.5 0 0 1 1657.3,895.32"/>
<path class="t" d="M1645.55,891.04 A5,5 0 0 1 1654.95,891.04 M1663,877.45 L1612.75,877.45 L1612.75,895 L1669,895 M1159.68,914.45 A1,1 0 0 1 1160.68,913.45 L1161.32,913.45 A1,1 0 0 1 1162.32,914.45 L1162.32,947.65 A1,1 0 0 1 1161.32,948.65 L1160.68,948.65 A1,1 0 0 1 1159.68,947.65 Z M1040,942.6 L1056.5,942.6 L1056.5,949.2 L1040,949.2 M1220.4,883.2 C1222.42,883.93 1229.38,885.03 1232.5,887.6 C1235.62,890.17 1237.08,894.2 1239.1,898.6 C1241.12,903 1241.12,904.47 1244.6,914 C1248.08,923.53 1257.43,948.83 1260,955.8 M1216,934.9 C1215.27,935.6 1213.43,938.16 1211.6,939.08 C1209.77,940 1207.2,940.18 1205,940.4 C1202.8,940.62 1199.5,940.4 1198.4,940.4 M1344.25,1080 L1367.5,1142.25 L1333,1155 L1312.75,1108.5 M1303,1045.5 L1297.75,1030.5 L1317.25,1030.5 L1322.5,1045.5 M1315,1107 L1348.75,1095.75 M1340.5,1122 L1349.5,1148.25 M1196.5,1021.5 L1204.75,1021.5 M1464.25,1046.25 L1464.25,1022.25 L1480,1021.2 M1464,1022.5 C1467.08,1022.17 1476.5,1021.75 1482.5,1020.5 C1488.5,1019.25 1494.58,1017.17 1500,1015 C1505.42,1012.83 1509.58,1010.42 1515,1007.5 C1520.42,1004.58 1529.58,999.17 1532.5,997.5 M1464,1045 L1464,1022.5 M977.5,1110.8 L978.8,1119.5 M1848.75,1028 L1900,1025 M1574.7,462.4 L1755.2,462.4 M1576.5,464.7 L1757,464.7 M995,717.95 L956,782.6 M1025,943 L1055,943"/>
<path class="d" d="M623.12,504.75 L636.25,504.75 M512.5,548 L535.75,559.25 M505,560.75 L526.75,575 M810.5,731.75 L810.5,749.75 M1161.5,842.7 L1190,842.7 M1161.5,857.7 L1190,857.7 M1661.4,873.44 A22.3,22.3 0 0 1 1672.21,896.62 M1211.6,939.3 L1216,949.2"/>
<path class="dl" d="M977.61,1111.52 L1299.61,1079.77 M1371.16,1072.72 L1848.61,1026.02 M978.39,1119.48 L1300.39,1087.73 M1371.94,1080.68 L1849.39,1033.98 M1866.41,815.09 L1886.61,945.09 M1867.59,814.91 L1887.79,944.91 M1816.35,822.69 L1867.6,815.19 M1816.15,821.31 L1867.4,813.81 M1866.81,814.61 L1899.31,1025.11 M1868.19,814.39 L1900.69,1024.89 M1849.44,1027.89 L1816.94,821.89 M1848.06,1028.11 L1815.56,822.11 M1820.12,836.94 L1868.87,828.69 M1819.88,835.56 L1868.63,827.31"/>
<path class="m" d="M348.45,465.84 A21.9,21.9 0 0 1 317.65,456.13 M334.59,438.89 A8.5,8.5 0 0 1 345.49,449.78 M260.62,599 L273.75,591.25 L450,591.25 M553,656 L608.5,656 M605.5,544.55 L662.5,544.55 M400,591.2 L455.5,591.2 M455.5,591.2 C456.38,590.95 459.12,590.4 460.75,589.7 C462.38,589 464.5,587.45 465.25,587 M757.25,716.75 L757.25,704.67 A3.38,3.38 0 0 1 760.62,701.3 L762,701.3 A7.81,7.81 0 0 1 765.75,702.26 L805.24,723.92 A10.13,10.13 0 0 1 810.5,732.8 L810.5,734 M1652.19,914.97 A22.3,22.3 0 0 1 1627.95,892.75"/>
<path class="m2" d="M733.7,369.2 L733.7,563.7 M733.7,656.7 L733.3,835 L728.7,857.5 M1153.7,583 L1153.7,890.5 M860,635.75 L1072.01,759.79 A5.52,5.52 0 0 0 1074.8,760.55 L1215,760.4 M1397.5,823.12 L1637.5,823.2 L1652.5,816.2 M1151.3,963.5 L1151.3,1046"/>
<path class="s1" d="M1326.25,1026 L1285.75,1026 L1301.5,1078.5 M1326.25,1026 L1344.25,1080 M1310.5,1090.8 L1324,1086 L1343.5,1079.55 M1180,1020 L1184.5,1020 L1184.5,1027.5 L1180,1027.5 M1193.5,1028.25 L1193.5,1020 L1196.5,1019.25 M847.5,1128.3 L1300,1083.75 M1371.55,1076.7 L1900,1025.5 M1833.25,595.6 L1867,815 M1023.25,953.75 L1046.25,966.75 L1049.5,963 L1052,963"/>
<path class="cn" d="M1563.7,452.24 A8.2,8.2 0 0 1 1570,438.8 L1721.3,438.8 A32.89,32.89 0 0 1 1746.67,450.76 L1766.58,474.89 A8.01,8.01 0 0 1 1760.4,488 L1609.5,488 A34.16,34.16 0 0 1 1583.26,475.71 Z"/>
<path class="ev" d="M1215,760.2 L1362.5,760.2 A17.86,17.86 0 0 1 1379.28,771.94 L1409.28,854.23 A11.9,11.9 0 0 1 1398.1,870.2 L1255,870.2 Z"/>
<path class="fth" d="M1680.17,856.83 L1684.38,864.21 A61.44,61.44 0 0 1 1661.48,948.06 L1654.09,952.27 M449,832.2 L449,832.2 A97.8,97.8 0 0 1 364.05,782.86 L229.22,546.52 A62.46,62.46 0 0 1 252.99,461.05 L400.67,378.47 A74.44,74.44 0 0 1 437,369 L437,369"/>
<path class="fa" d="M437,369 L727.6,369 A82.73,82.73 0 0 1 768.69,379.93 L1088.28,562.83 A150.42,150.42 0 0 0 1163,582.7 L1468.5,582.7 A94.78,94.78 0 0 1 1550.79,630.45 L1680.17,856.83 M1654.09,952.27 L1532.63,1021.53 A188.62,188.62 0 0 1 1439.2,1046.3 L1089.5,1046.3 A130.63,130.63 0 0 1 1024.19,1028.8 L723.14,855 A171.68,171.68 0 0 0 637.3,832 L578,832"/>
<path class="ft" d="M1215,760.2 L1362.5,760.2 A17.86,17.86 0 0 1 1379.28,771.94 L1409.28,854.23 A11.9,11.9 0 0 1 1398.1,870.2 L1255,870.2 Z M437,369 L727.6,369 A82.73,82.73 0 0 1 768.69,379.93 L1088.28,562.83 A150.42,150.42 0 0 0 1163,582.7 L1468.5,582.7 A94.78,94.78 0 0 1 1550.79,630.45 L1680.17,856.83 M1654.09,952.27 L1532.63,1021.53 A188.62,188.62 0 0 1 1439.2,1046.3 L1089.5,1046.3 A130.63,130.63 0 0 1 1024.19,1028.8 L723.14,855 A171.68,171.68 0 0 0 637.3,832 L578,832"/>
<path class="w1" d="M336.42,452.98 A6.2,6.2 0 1 1 342.87,443.77 M571.88,450 L571.88,466.25 M580.62,450 L580.62,466.25 M589.38,450 L589.38,466.25 M598.12,450 L598.12,466.25 M589.38,474.38 L589.38,492.5 M598.12,474.38 L598.12,492.5 M588.12,506.88 L588.12,512.5 M558.12,512.5 L558.12,522.5 M568.75,512.5 L568.75,522.5 M956,782.9 L1031,826.4 M511,715.2 L511,742.5 M1188.8,681.2 L1204,681.2 M1188.8,690 L1204,690 M1188.8,698.64 L1204,698.64 M1214.4,681.2 L1231.6,681.2 M1245.2,690.8 L1259.2,690.8 M1657.3,895.32 A7.5,7.5 0 0 1 1643.75,896.5 M1062.33,925.55 L1068.6,925.55 M1109.85,916.75 L1125.25,916.75 M1109.85,925.55 L1125.25,925.55 M1109.85,933.8 L1125.25,933.8 M1082.35,933.8 L1099.4,933.8 M1871.75,958.75 L1884.5,957 L1888.75,986.25 L1875.75,988 L1871.75,958.75"/>
<path class="w" d="M317.65,456.13 A21.9,21.9 0 0 1 324.94,428.94 M546.88,448.12 L546.88,429.75 L606.25,429.75 M546.88,448.12 L549.38,448.12 M556.25,447.75 L562.75,447.75 L562.75,466.25 L606.25,466.25 M561.25,474.38 L606.25,474.38 M580,474.38 L580,491.88 L556.25,491.88 M562.5,486.88 L562.5,491.88 M549.38,491.88 L546.88,491.88 L546.88,522.5 L607.5,522.5 M546.88,512.5 L606.88,512.5 M640,430 L657.5,430 L657.5,503.5 L640,503.5 M535.75,559.25 L569.5,578.75 M526.75,575 L559.75,594.5 M764,750.2 L764,797.75 L789.95,797.75 M764,750.2 L789.95,750.2 M809.45,750.2 L809.45,756.5 M809.45,768.5 L809.45,779 M809.45,791 L809.45,797.75 M1122.5,841.2 L1160,841.2 M1122.5,859.2 L1160,859.2 M494.5,700.5 L472.75,700.5 L472.75,810 L476.5,810 M484.75,809.55 L518.8,809.55 L518.8,775.5 M472.75,730.05 L478.75,730.05 M533.5,700.5 L580.75,700.5 L580.75,743.25 L555.55,743.25 L555.55,700.5 M493.75,709.5 L493.75,733.5 L511,733.5 M493.75,715.2 L498.25,715.2 M518.5,715.2 L535,715.2 L535,709.5 M518.5,715.2 L518.5,742.5 M520,725.25 L535.75,725.25 M520,733.8 L535.75,733.8 M465.25,742.5 L465.25,789 L472,789 M465.25,763.5 L471.25,763.5 M465.25,775.5 L471.25,775.5 M1246.88,606.25 L1246.88,645 M1262.5,607.12 L1277.5,607.12 M1263.75,607.12 L1263.75,623.75 L1278.12,623.75 M1310.62,607.12 L1323.12,607.12 L1323.12,681.25 L1310.62,681.25 M1212.5,671.88 L1212.5,644.62 L1248.75,644.62 M1271.88,644.62 L1277.5,644.62 M1167.2,671.76 L1276,671.76 M1168.4,671.76 L1168.4,724 L1190.4,724 M1189.6,714 L1189.6,708.4 L1205.6,708.4 M1205.44,672.4 L1205.44,709.2 M1213.2,650 L1213.2,709.2 M1214.4,690.4 L1230.4,690.4 L1230.4,714 M1225.2,708.4 L1230.4,708.4 M1251.6,671.76 L1251.6,724 L1229.6,724 M1251.6,702 L1259.2,702 M1251.6,713.6 L1259.6,713.6 M1258.8,690 L1258.8,691.6 M1230,713.75 L1230,723.12 L1251.88,723.12 M1671.21,900.38 A22.3,22.3 0 0 1 1652.19,914.97 M1054.85,903 L1054.85,894.45 A3,3 0 0 1 1057.85,891.45 L1084,891.45 M1062.33,892 L1062.33,963.5 M1054.85,918.4 L1060.9,918.4 M1054.85,931.6 L1060.9,931.6 M1054.85,943.15 L1144.5,943.15 M1054.85,918.4 L1054.85,921.7 M1054.85,931.05 L1054.85,933.8 M1054.85,940.4 L1054.85,943.7 M1123.6,891.45 L1144.5,891.45 M1083.45,901.35 L1083.45,924.67 L1099.95,924.67 M1083.45,906.3 L1088.4,906.3 M1097.2,906.3 L1100.28,906.3 L1100.28,942.6 M1108.42,942.6 L1108.42,906.85 L1124.7,906.85 L1124.7,901.9 M1060.35,962.95 L1183,962.95 M1194,962.95 L1197.85,962.95 M1076.3,961.08 L1080.7,961.08 M1139.55,958 L1143.95,958 M1139.55,958 L1139.55,962.95"/>
<path class="w2" d="M607.75,428.12 L607.75,523.75 M605.62,430.25 L640,430.25 M638.38,428.12 L638.38,505 M607.75,503.12 L623.12,503.12 M789.95,749 L789.95,798.8 M789.95,750.2 L810.5,750.2 M789.95,797.75 L810.5,797.75 M791.75,773.75 L810.5,773.75 M464.5,743.4 L556,743.4 M473.35,743.4 L473.35,774.75 M472,774.45 L555.25,774.45 M553.9,759.3 L553.9,776.25 M1276.25,607.5 L1293.12,607.5 M1277.75,623.12 L1277.75,682.5 M1276,680.62 L1310.62,680.62 M1308.75,605.62 L1308.75,682.5 M1258.12,643.12 L1258.12,673.75 M1145.38,889.8 L1145.38,964.05 M1176.4,889.8 L1176.4,964.05 M1143.95,891.67 L1161,891.67 M1178.05,935.45 L1197.85,935.45 M1196.2,933.8 L1196.2,964.05"/>
<g class="col">
<circle cx="472.75" cy="385.75" r="2.85"/><circle cx="531.5" cy="385.75" r="2.85"/><circle cx="619" cy="385.75" r="2.85"/><circle cx="674.5" cy="385.75" r="2.85"/><circle cx="399.5" cy="397.5" r="2.85"/><circle cx="343.25" cy="416" r="2.85"/>
<circle cx="308.25" cy="436.25" r="2.85"/><circle cx="273.25" cy="456.25" r="2.85"/><circle cx="270.75" cy="471.75" r="2.85"/><circle cx="242" cy="477.75" r="2.85"/><circle cx="227.5" cy="510" r="2.85"/><circle cx="234.25" cy="544.5" r="2.85"/>
<circle cx="270.75" cy="536.5" r="2.85"/><circle cx="270.75" cy="584.25" r="2.85"/><circle cx="405.5" cy="457.25" r="2.85"/><circle cx="472.75" cy="457.25" r="2.85"/><circle cx="540" cy="457.25" r="2.85"/><circle cx="674.5" cy="457.25" r="2.85"/>
<circle cx="338.25" cy="497" r="2.85"/><circle cx="338.25" cy="528.75" r="2.85"/><circle cx="405.5" cy="528.75" r="2.85"/><circle cx="472.75" cy="528.75" r="2.85"/><circle cx="540" cy="528.75" r="2.85"/><circle cx="607.25" cy="528.75" r="2.85"/>
<circle cx="674.5" cy="528.75" r="2.85"/><circle cx="338.25" cy="600.25" r="2.85"/><circle cx="405.5" cy="600.25" r="2.85"/><circle cx="452.25" cy="600.25" r="2.85"/><circle cx="304.5" cy="642.25" r="2.85"/><circle cx="338.25" cy="671.75" r="2.85"/>
<circle cx="405.5" cy="671.75" r="2.85"/><circle cx="472.75" cy="671.75" r="2.85"/><circle cx="540" cy="671.75" r="2.85"/><circle cx="607.25" cy="671.75" r="2.85"/><circle cx="674.5" cy="671.75" r="2.85"/><circle cx="362.75" cy="743.25" r="2.85"/>
<circle cx="405.5" cy="743.25" r="2.85"/><circle cx="607.25" cy="743.25" r="2.85"/><circle cx="674.5" cy="743.25" r="2.85"/><circle cx="405.5" cy="801.25" r="2.85"/><circle cx="472.75" cy="814.75" r="2.85"/><circle cx="540" cy="814.75" r="2.85"/>
<circle cx="607.25" cy="814.75" r="2.85"/><circle cx="674.5" cy="814.75" r="2.85"/><circle cx="742" cy="388" r="2.85"/><circle cx="742" cy="466.25" r="2.85"/><circle cx="742" cy="548.75" r="2.85"/><circle cx="809.25" cy="422.5" r="2.85"/>
<circle cx="809.25" cy="505" r="2.85"/><circle cx="809.25" cy="587.5" r="2.85"/><circle cx="876.5" cy="461.25" r="2.85"/><circle cx="742" cy="681" r="2.85"/><circle cx="742" cy="763.5" r="2.85"/><circle cx="742" cy="846.25" r="2.85"/>
<circle cx="809.25" cy="720" r="2.85"/><circle cx="809.25" cy="885" r="2.85"/><circle cx="876.5" cy="758.75" r="2.85"/><circle cx="876.5" cy="841.25" r="2.85"/><circle cx="876.5" cy="923.75" r="2.85"/><circle cx="943.75" cy="797.5" r="2.85"/>
<circle cx="943.75" cy="880" r="2.85"/><circle cx="943.75" cy="962.5" r="2.85"/><circle cx="1011" cy="836.25" r="2.85"/><circle cx="1011" cy="918.75" r="2.85"/><circle cx="1011" cy="1001.25" r="2.85"/><circle cx="1078.25" cy="660.75" r="2.85"/>
<circle cx="1078.25" cy="742.5" r="2.85"/><circle cx="1078.25" cy="875" r="2.85"/><circle cx="1078.25" cy="1029.25" r="2.85"/><circle cx="1145.5" cy="1029.25" r="2.85"/><circle cx="1145.5" cy="598.5" r="2.85"/><circle cx="1145.5" cy="672" r="2.85"/>
<circle cx="1145.5" cy="743.25" r="2.85"/><circle cx="1212.75" cy="600.25" r="2.85"/><circle cx="1347.25" cy="600.25" r="2.85"/><circle cx="1414.75" cy="600.25" r="2.85"/><circle cx="1481.75" cy="601.75" r="2.85"/><circle cx="1520" cy="605.75" r="2.85"/>
<circle cx="1545.5" cy="634.75" r="2.85"/><circle cx="1549.25" cy="665.25" r="2.85"/><circle cx="1347.25" cy="672" r="2.85"/><circle cx="1414.75" cy="672" r="2.85"/><circle cx="1481.75" cy="672" r="2.85"/><circle cx="1212.5" cy="743.25" r="2.85"/>
<circle cx="1279.75" cy="743.25" r="2.85"/><circle cx="1347" cy="743.25" r="2.85"/><circle cx="1414.25" cy="743.25" r="2.85"/><circle cx="1481.5" cy="743.25" r="2.85"/><circle cx="1548.75" cy="743.25" r="2.85"/><circle cx="1594.5" cy="743.25" r="2.85"/>
<circle cx="1413" cy="814.75" r="2.85"/><circle cx="1481.75" cy="814.75" r="2.85"/><circle cx="1549.25" cy="814.75" r="2.85"/><circle cx="1616.5" cy="815" r="2.85"/><circle cx="1212.75" cy="886.25" r="2.85"/><circle cx="1280" cy="886.25" r="2.85"/>
<circle cx="1347.25" cy="886.25" r="2.85"/><circle cx="1414.25" cy="880.75" r="2.85"/><circle cx="1482" cy="886.5" r="2.85"/><circle cx="1549.25" cy="886.5" r="2.85"/><circle cx="1605.25" cy="886.5" r="2.85"/><circle cx="1213" cy="958" r="2.85"/>
<circle cx="1280" cy="958" r="2.85"/><circle cx="1347.5" cy="958" r="2.85"/><circle cx="1414.5" cy="958" r="2.85"/><circle cx="1482" cy="958" r="2.85"/><circle cx="1541.75" cy="958" r="2.85"/><circle cx="1213" cy="1029.5" r="2.85"/>
<circle cx="1280" cy="1029.5" r="2.85"/><circle cx="1347.5" cy="1029.5" r="2.85"/><circle cx="1414.5" cy="1029.5" r="2.85"/><circle cx="1482" cy="1027.5" r="2.85"/><circle cx="1642.5" cy="827" r="2.85"/><circle cx="1666.75" cy="844.5" r="2.85"/>
<circle cx="1681.5" cy="870.5" r="2.85"/><circle cx="1686.25" cy="897.5" r="2.85"/><circle cx="1678.25" cy="923.75" r="2.85"/><circle cx="1658.5" cy="943.25" r="2.85"/><circle cx="1616.5" cy="954" r="2.85"/><circle cx="1632.5" cy="958.25" r="2.85"/>
<circle cx="1606.25" cy="973.75" r="2.85"/><circle cx="1580" cy="989" r="2.85"/><circle cx="1542.5" cy="996.75" r="2.85"/><circle cx="943.75" cy="529.5" r="3.9"/><circle cx="920.5" cy="569.5" r="3.9"/><circle cx="889.25" cy="623.75" r="3.9"/>
<circle cx="1067.75" cy="601.25" r="3.9"/><circle cx="1044.5" cy="641.25" r="3.9"/><circle cx="1013" cy="695.5" r="3.9"/><circle cx="1677.25" cy="886.5" r="3.1"/><circle cx="1212.75" cy="672" r="3"/><circle cx="1212.75" cy="814.75" r="1.8"/>
<circle cx="1078.25" cy="660.75" r="2.2"/>
</g>
<circle cx="876.5" cy="543.75" r="3.7" style="fill:#9a9a9a;stroke:#444;stroke-width:.7"/>
<circle cx="876.5" cy="543.75" r="2.2" style="fill:#000;stroke:none"/>
<circle cx="337.5" cy="446.88" r="4.2" class="t"/>
<circle cx="1261" cy="791.5" r="5" class="g"/>
<circle cx="1269.38" cy="839.38" r="5" class="g"/>
<circle cx="1336" cy="808.75" r="5" class="g"/>
<circle cx="1370.62" cy="836.88" r="5" class="g"/>
<path class="blk" d="M1299.2,1079.09 L1309.7,1109.69 L1314.9,1107.91 L1304.4,1077.31Z"/>
<path class="blk" d="M1344.46,1081.54 L1371.76,1079.44 L1371.34,1073.96 L1344.04,1076.06Z"/>
<path class="blk" d="M1885.82,945.22 L1898.62,1027.22 L1901.38,1026.78 L1888.58,944.78Z"/>
</svg>
<div class="bl"></div><div class="bt"></div><div class="br"></div><div class="bb"></div>
<div class="title">(MKT) 20 (003) Level 1</div><div class="ul"></div>
<div class="scale">SCALE&nbsp; 1 : 200</div>
<div class="a0">A0</div>
</body></html>
